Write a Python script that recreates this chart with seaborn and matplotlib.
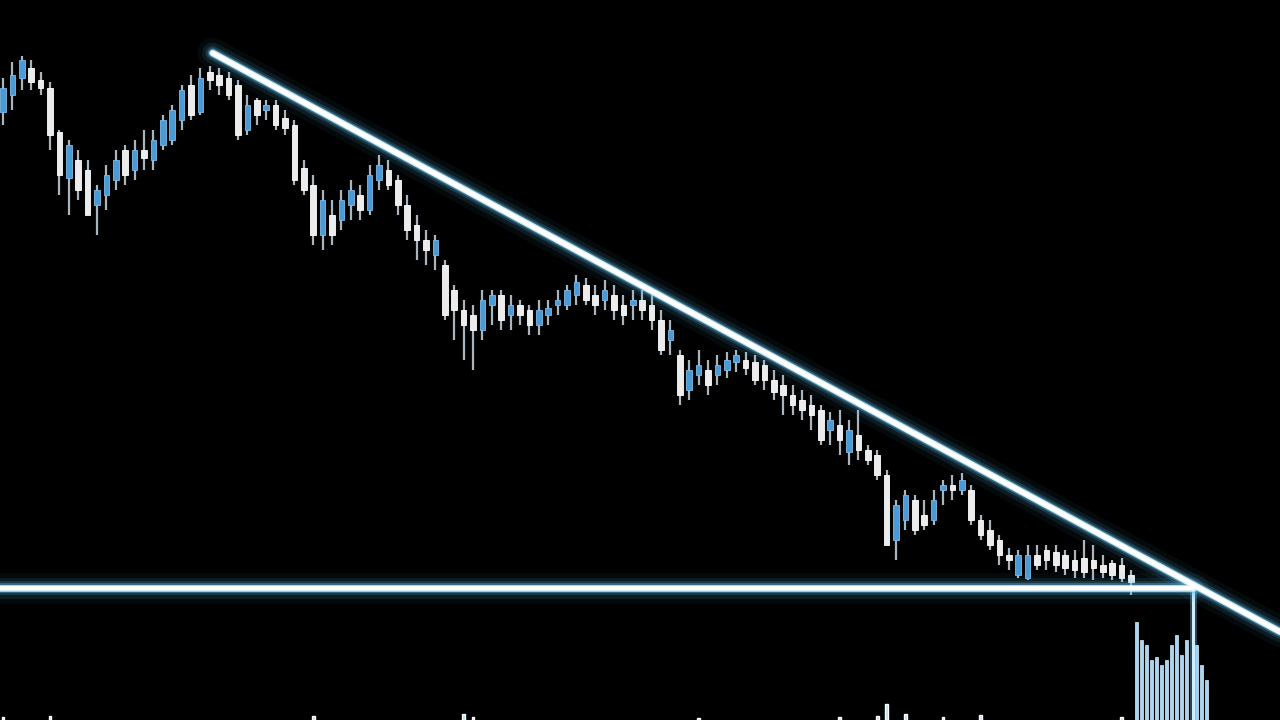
"""
Bougies avec ligne de tendance baissière et support horizontal (style néon).
"""

import numpy as np
import matplotlib.pyplot as plt
import seaborn as sns

# ─────────────────────────────────────────────
# Données (prix en unités arbitraires)
# ─────────────────────────────────────────────
opens = [608, 625, 642, 652, 640, 632, 588, 542, 560, 550,
         515, 525, 540, 570, 550, 570, 560, 575, 580, 600,
         635, 608, 648, 645, 642, 635, 590, 620, 610, 615,
         602, 595, 552, 535, 485, 505, 500, 515, 525, 510,
         540, 550, 540, 515, 495, 480, 465, 455, 430, 410,
         405, 390, 415, 425, 405, 415, 410, 395, 405, 415,
         415, 425, 435, 425, 420, 425, 415, 415, 420, 415,
         400, 380, 365, 330, 345, 350, 345, 350, 358, 360,
         358, 355, 340, 335, 325, 320, 315, 310, 290, 295,
         268, 285, 270, 265, 245, 180, 200, 220, 205, 200,
         230, 235, 230, 230, 200, 190, 180, 165, 145, 142,
         165, 170, 168, 165, 160, 162, 160, 155, 157, 155,
         145]
closes = [632, 645, 660, 638, 632, 585, 545, 575, 530, 505,
          530, 545, 560, 545, 570, 562, 580, 600, 610, 630,
          605, 642, 640, 635, 625, 585, 615, 605, 615, 595,
          592, 540, 530, 485, 520, 485, 520, 530, 510, 545,
          555, 535, 515, 490, 480, 470, 480, 405, 410, 395,
          390, 420, 425, 400, 415, 405, 395, 410, 412, 420,
          430, 438, 420, 415, 430, 410, 405, 420, 410, 400,
          370, 390, 325, 350, 355, 335, 355, 360, 365, 352,
          340, 340, 328, 325, 315, 310, 305, 280, 300, 280,
          290, 270, 260, 245, 175, 215, 225, 190, 195, 220,
          235, 230, 240, 200, 185, 175, 165, 160, 165, 165,
          155, 160, 155, 152, 150, 148, 152, 148, 145, 142,
          138]
highs = [642, 658, 664, 660, 648, 638, 590, 580, 570, 560,
         535, 555, 570, 575, 580, 590, 590, 605, 615, 635,
         645, 652, 654, 652, 648, 640, 625, 622, 620, 620,
         610, 600, 560, 545, 530, 520, 530, 540, 535, 555,
         565, 560, 545, 525, 505, 490, 485, 460, 435, 420,
         415, 430, 430, 430, 425, 420, 415, 420, 420, 430,
         435, 445, 442, 435, 440, 435, 425, 430, 430, 425,
         410, 400, 370, 360, 370, 360, 365, 368, 370, 368,
         365, 360, 350, 345, 335, 330, 325, 315, 308, 310,
         300, 310, 275, 270, 250, 220, 230, 225, 220, 230,
         240, 245, 247, 235, 205, 200, 185, 172, 170, 175,
         175, 175, 175, 170, 170, 180, 175, 165, 160, 162,
         150]
lows = [595, 610, 630, 630, 625, 570, 525, 505, 520, 505,
        485, 510, 530, 535, 540, 550, 550, 570, 575, 590,
        600, 605, 630, 625, 620, 580, 585, 595, 600, 590,
        585, 535, 525, 475, 470, 475, 490, 500, 500, 505,
        530, 530, 505, 480, 460, 455, 450, 400, 380, 360,
        350, 380, 395, 390, 390, 395, 385, 385, 395, 405,
        410, 415, 415, 405, 410, 400, 395, 400, 400, 390,
        365, 365, 315, 320, 335, 325, 335, 342, 348, 345,
        335, 330, 320, 305, 305, 300, 290, 275, 275, 265,
        255, 260, 255, 240, 175, 160, 190, 185, 190, 195,
        215, 220, 225, 195, 180, 170, 155, 150, 142, 140,
        150, 150, 148, 145, 142, 142, 140, 142, 140, 138,
        125]

# Volume des bougies (petites barres en bas)
volumes = [3, 0, 0, 0, 0, 4, 0, 0, 0, 0,
           0, 0, 0, 0, 0, 0, 0, 0, 0, 0,
           0, 0, 0, 0, 0, 0, 0, 0, 0, 0,
           0, 0, 0, 4, 0, 0, 0, 0, 0, 0,
           0, 0, 0, 0, 0, 0, 0, 0, 0, 6,
           3, 0, 0, 0, 0, 0, 0, 0, 0, 0,
           0, 0, 0, 0, 0, 0, 0, 0, 0, 0,
           0, 0, 0, 0, 2, 0, 0, 0, 0, 0,
           0, 0, 0, 0, 0, 0, 0, 0, 0, 3,
           0, 0, 0, 4, 16, 0, 6, 0, 0, 0,
           3, 0, 0, 0, 5, 0, 0, 0, 0, 0,
           0, 0, 0, 0, 0, 0, 0, 0, 0, 3,
           0]

# Pic de volume final (barres serrées après la cassure)
vol_pic_debut = 120.6
vol_pic_pas = 0.53
vol_pic = [98, 80, 75, 60, 63, 55, 60, 75, 85, 65, 80, 0, 75, 55, 40]

# Ancrages des lignes dessinées (index bougie, prix)
tendance_x = [22.3, 135.9]
tendance_y = [667, 88]
support_x = [-1.0, 126.6]
support_y = [132, 132]
verticale_x = [126.6, 126.6]
verticale_y = [132, 0]

# ─────────────────────────────────────────────
# Style
# ─────────────────────────────────────────────
sns.set_theme(style="dark", rc={
    "axes.facecolor": "black",
    "figure.facecolor": "black",
})

COUL_HAUSSE = "#4a9ad6"
COUL_BAISSE = "#ececec"
COUL_MECHE = "#a9b4bd"


def ligne_neon(ax, x, y, coeur=3.2, couleur="#5ec2ee"):
    """Trace une ligne avec un halo lumineux."""
    for lw, a in [(22, 0.05), (15, 0.10), (10, 0.18), (7, 0.38)]:
        ax.plot(x, y, color=couleur, lw=lw, alpha=a, solid_capstyle="round", zorder=5)
    ax.plot(x, y, color="#d2f2ff", lw=coeur + 1.5, alpha=0.9, solid_capstyle="round", zorder=6)
    ax.plot(x, y, color="white", lw=coeur, solid_capstyle="round", zorder=7)


fig = plt.figure(figsize=(12.8, 7.2), dpi=100)
ax = fig.add_axes([0, 0, 1, 1])

idx = np.arange(len(opens))
o = np.array(opens)
c = np.array(closes)
hausse = c >= o

# Mèches
ax.vlines(idx, lows, highs, color=COUL_MECHE, lw=1.6, zorder=2)
# Corps
bas = np.minimum(o, c)
haut = np.abs(c - o).clip(min=3)
ax.bar(idx[hausse], haut[hausse], bottom=bas[hausse], width=0.58,
       color=COUL_HAUSSE, edgecolor="#7dbbe8", linewidth=0.6, zorder=3)
ax.bar(idx[~hausse], haut[~hausse], bottom=bas[~hausse], width=0.58,
       color=COUL_BAISSE, edgecolor="white", linewidth=0.6, zorder=3)

# Volumes
vol = np.array(volumes)
ax.bar(idx[vol > 0], vol[vol > 0], width=0.3, color="#b8dff5", zorder=2)
x_pic = vol_pic_debut + vol_pic_pas * np.arange(len(vol_pic))
ax.bar(x_pic, vol_pic, width=0.3, color="#a6d6f2", edgecolor="#d8f0ff",
       linewidth=0.5, zorder=2)

# Lignes néon
ligne_neon(ax, tendance_x, tendance_y, coeur=3.4)
ligne_neon(ax, support_x, support_y, coeur=3.2)
ax.plot(verticale_x, verticale_y, color="#7cc3ea", lw=5, alpha=0.35, zorder=4)
ax.plot(verticale_x, verticale_y, color="#cdeefc", lw=2.2, zorder=4)

ax.set_xlim(-0.32, 135.85)
ax.set_ylim(0, 720)
ax.axis("off")

plt.savefig("out.png", dpi=100, facecolor="black")
plt.close()
